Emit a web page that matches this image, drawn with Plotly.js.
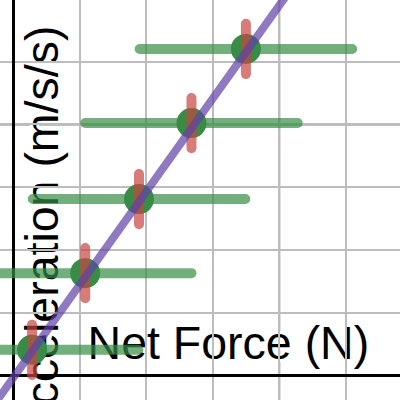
<!DOCTYPE html>
<html>
<head>
<meta charset="utf-8">
<script src="https://cdn.plot.ly/plotly-3.0.1.min.js"></script>
<style>
  html, body { margin: 0; padding: 0; background: #fff; }
  #chart { width: 400px; height: 400px; }
  #chart path.xerror, #chart path.yerror { stroke-linecap: round; }
  #chart text { paint-order: stroke; stroke: #ffffff; stroke-width: 6px; stroke-linejoin: round; }
</style>
</head>
<body>
<div id="chart"></div>
<script>
// Data
const forceN   = [0.28, 1.08, 1.89, 2.68, 3.50];   // Net Force (N)
const accel    = [0.41, 1.63, 2.81, 4.02, 5.20];   // Acceleration (m/s/s)
const forceErr = [1.6, 1.6, 1.6, 1.6, 1.6];        // horizontal uncertainty
const accelErr = [0.40, 0.40, 0.40, 0.40, 0.40];   // vertical uncertainty
const fitX = [-0.5, 4.5];                           // best-fit line ends
const fitY = [-0.77, 6.63];
const xTitle = 'Net Force (N)';
const yTitle = 'Acceleration (m/s/s)';

const FONT = 'Arial, "Liberation Sans", sans-serif';

const traces = [
  {
    type: 'scatter', mode: 'markers', x: forceN, y: accel,
    marker: { size: 30, color: '#388c46' },
    error_x: { type: 'data', array: forceErr, visible: true, thickness: 10, width: 0, color: 'rgba(56,140,70,0.7)' },
    hoverinfo: 'skip', showlegend: false
  },
  {
    type: 'scatter', mode: 'markers', x: forceN, y: accel,
    marker: { size: 1, color: 'rgba(0,0,0,0)' },
    error_y: { type: 'data', array: accelErr, visible: true, thickness: 10, width: 0, color: 'rgba(199,68,64,0.7)' },
    hoverinfo: 'skip', showlegend: false
  },
  {
    type: 'scatter', mode: 'lines', x: fitX, y: fitY,
    line: { width: 8, color: 'rgba(96,66,166,0.7)' },
    hoverinfo: 'skip', showlegend: false
  }
];

const layout = {
  width: 400, height: 400,
  margin: { l: 0, r: 0, t: 0, b: 0, pad: 0 },
  paper_bgcolor: '#ffffff', plot_bgcolor: '#ffffff',
  showlegend: false,
  xaxis: {
    range: [-0.203, 5.82], dtick: 1, tick0: 0,
    showticklabels: false, ticks: '',
    showgrid: true, gridcolor: '#bdbdbd', gridwidth: 2,
    zeroline: true, zerolinecolor: '#000000', zerolinewidth: 3,
    showline: false, fixedrange: true
  },
  yaxis: {
    range: [-0.39, 5.98], dtick: 1, tick0: 0,
    showticklabels: false, ticks: '',
    showgrid: true, gridcolor: '#bdbdbd', gridwidth: 2,
    zeroline: true, zerolinecolor: '#000000', zerolinewidth: 3,
    showline: false, fixedrange: true
  },
  shapes: [
    { type: 'line', layer: 'between', xref: 'x', yref: 'paper', x0: 4, x1: 4, y0: 0, y1: 1,
      line: { color: '#000000', width: 2 } },
    { type: 'line', layer: 'between', xref: 'paper', yref: 'y', x0: 0, x1: 1, y0: 4, y1: 4,
      line: { color: '#000000', width: 2 } },
    { type: 'rect', layer: 'between', xref: 'paper', yref: 'paper',
      x0: 0.521, x1: 0.621, y0: 0.105, y1: 0.205,
      line: { width: 0 }, fillcolor: 'rgba(0,0,0,0)',
      label: { text: xTitle, textposition: 'middle center', textangle: 0,
               font: { family: FONT, size: 46.5, color: '#000000' } } },
    { type: 'rect', layer: 'between', xref: 'paper', yref: 'paper',
      x0: 0.0425, x1: 0.1425, y0: 0.3725, y1: 0.4725,
      line: { width: 0 }, fillcolor: 'rgba(0,0,0,0)',
      label: { text: yTitle, textposition: 'middle center', textangle: -90,
               font: { family: FONT, size: 46.5, color: '#000000' } } }
  ]
};

Plotly.newPlot('chart', traces, layout, { displayModeBar: false, staticPlot: true });
</script>
</body>
</html>
